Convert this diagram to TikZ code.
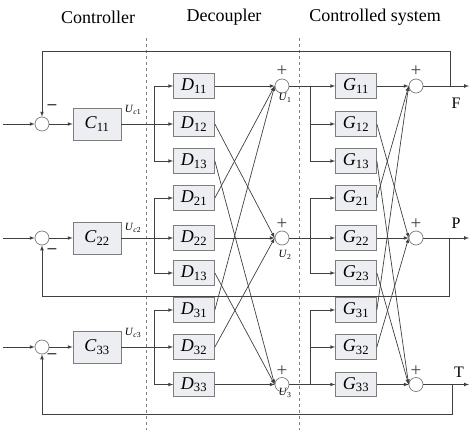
\documentclass[tikz,border=0pt]{standalone}
\usepackage{fontspec}
\setmainfont{Liberation Serif}
\usetikzlibrary{arrows}
\definecolor{LineGray}{RGB}{64,64,64}
\definecolor{EdgeGray}{RGB}{125,125,125}
\definecolor{BoxFill}{RGB}{236,238,242}
\newcommand{\blk}[2]{\textit{#1}\textsubscript{#2}}

\begin{document}
\begin{tikzpicture}[x=1pt,y=-1pt,
    wire/.style={draw=LineGray,line width=0.7pt},
    sig/.style={wire,-latex},
    block/.style={draw=EdgeGray,fill=BoxFill,line width=0.7pt,minimum width=41pt,
      minimum height=24.5pt,inner sep=0pt,font=\fontsize{18}{18}\selectfont},
    cblock/.style={block,minimum width=48pt,minimum height=32pt},
    sumnode/.style={circle,draw=EdgeGray,fill=white,line width=0.7pt,minimum size=14pt,inner sep=0pt},
    title/.style={font=\fontsize{18}{20}\selectfont},
    sign/.style={font=\fontsize{19}{19}\selectfont,inner sep=0pt,text=LineGray},
    divider/.style={draw=EdgeGray,dashed,line width=0.7pt},
    sublabel/.style={font=\fontsize{11}{11}\selectfont,inner sep=0pt},
    outlabel/.style={font=\fontsize{16}{16}\selectfont,inner sep=0pt}]
  \useasboundingbox (0,0) rectangle (474,431);
  % titles
  \node[title] (tC) at (98,17) {Controller};
  \node[title] (tD) at (224,17) {Decoupler};
  \node[title] (tG) at (375,17) {Controlled system};
  % dashed dividers
  \draw[divider] (146,38) -- (146,430);
  \draw[divider] (299,38) -- (299,430);
  % error junctions
  \node[sumnode] (e1) at (42,124) {};
  \node[sumnode] (e2) at (42,238) {};
  \node[sumnode] (e3) at (42,347) {};
  \node[sign] (m1) at (52,108) {\textbf{−}};
  \node[sign] (m2) at (52,252) {\textbf{−}};
  \node[sign] (m3) at (52,357) {\textbf{−}};
  % controllers
  \node[cblock] (C11) at (97,124) {\blk{C}{11}};
  \node[cblock] (C22) at (97,238) {\blk{C}{22}};
  \node[cblock] (C33) at (97,347) {\blk{C}{33}};
  \node[sublabel] (uc1) at (133,110) {\textit{U}\textsubscript{\textit{c}1}};
  \node[sublabel] (uc2) at (133,228) {\textit{U}\textsubscript{\textit{c}2}};
  \node[sublabel] (uc3) at (133,333) {\textit{U}\textsubscript{\textit{c}3}};
  % decoupler
  \node[block] (D11) at (194,86) {\blk{D}{11}};
  \node[block] (D12) at (194,124) {\blk{D}{12}};
  \node[block] (D13) at (194,161) {\blk{D}{13}};
  \node[block] (D21) at (194,198) {\blk{D}{21}};
  \node[block] (D22) at (194,238) {\blk{D}{22}};
  \node[block] (D23) at (194,273) {\blk{D}{13}};
  \node[block] (D31) at (194,310) {\blk{D}{31}};
  \node[block] (D32) at (194,347) {\blk{D}{32}};
  \node[block] (D33) at (194,384.5) {\blk{D}{33}};
  % decoupled sums
  \node[sumnode] (U1) at (282,86) {};
  \node[sumnode] (U2) at (282,238) {};
  \node[sumnode] (U3) at (282,384.5) {};
  \node[sign] (pU1) at (282,71) {+};
  \node[sign] (pU2) at (282,224) {+};
  \node[sign] (pU3) at (282,371) {+};
  \node[sublabel] (lU1) at (285,98) {\textit{U}\textsubscript{1}};
  \node[sublabel] (lU2) at (285,255) {\textit{U}\textsubscript{2}};
  \node[sublabel] (lU3) at (285,393) {\textit{U}\textsubscript{3}};
  % controlled system
  \node[block] (G11) at (356,86) {\blk{G}{11}};
  \node[block] (G12) at (356,124) {\blk{G}{12}};
  \node[block] (G13) at (356,161) {\blk{G}{13}};
  \node[block] (G21) at (356,198) {\blk{G}{21}};
  \node[block] (G22) at (356,238) {\blk{G}{22}};
  \node[block] (G23) at (356,273) {\blk{G}{23}};
  \node[block] (G31) at (356,310) {\blk{G}{31}};
  \node[block] (G32) at (356,347) {\blk{G}{32}};
  \node[block] (G33) at (356,384.5) {\blk{G}{33}};
  % output sums
  \node[sumnode] (S1) at (416,86) {};
  \node[sumnode] (S2) at (416,238) {};
  \node[sumnode] (S3) at (416,384.5) {};
  \node[sign] (pS1) at (416,71) {+};
  \node[sign] (pS2) at (416,224) {+};
  \node[sign] (pS3) at (416,371) {+};
  \node[outlabel] (F) at (456,103) {F};
  \node[outlabel] (P) at (456,223) {P};
  \node[outlabel] (T) at (459,372) {T};
  % free ends and branch points
  \coordinate (in1) at (3,124);
  \coordinate (in2) at (3,238);
  \coordinate (in3) at (3,347);
  \coordinate (b1) at (154,124);
  \coordinate (b2) at (154,238);
  \coordinate (b3) at (154,347);
  \coordinate (g1) at (310,86);
  \coordinate (g2) at (310,238);
  \coordinate (g3) at (310,384.5);
  \coordinate (y1) at (469,86);
  \coordinate (y2) at (469,238);
  \coordinate (y3) at (469,384.5);
  \coordinate (f1) at (450,86);
  \coordinate (f2) at (449,238);
  \coordinate (f3) at (452,384.5);
  \coordinate (k1) at (450,51);
  \coordinate (k2) at (449,296);
  \coordinate (k3) at (452,414);
  % controller loops
  \draw[sig] (in1) -- (e1);
  \draw[sig] (in2) -- (e2);
  \draw[sig] (in3) -- (e3);
  \draw[sig] (e1) -- (C11);
  \draw[sig] (e2) -- (C22);
  \draw[sig] (e3) -- (C33);
  \draw[sig] (C11) -- (D12);
  \draw[sig] (C22) -- (D22);
  \draw[sig] (C33) -- (D32);
  \draw[sig] (b1) |- (D11);
  \draw[sig] (b1) |- (D13);
  \draw[sig] (b2) |- (D21);
  \draw[sig] (b2) |- (D23);
  \draw[sig] (b3) |- (D31);
  \draw[sig] (b3) |- (D33);
  % decoupler outputs
  \draw[sig] (D11.east) -- (U1.west);
  \draw[sig] (D12.east) -- (U2.west);
  \draw[sig] (D13.east) -- (U3.west);
  \draw[sig] (D21.east) -- (U1.west);
  \draw[sig] (D22.east) -- (U2.west);
  \draw[sig] (D23.east) -- (U3.west);
  \draw[sig] (D31.east) -- (U1.west);
  \draw[sig] (D32.east) -- (U2.west);
  \draw[sig] (D33.east) -- (U3.west);
  % plant inputs
  \draw[sig] (U1) -- (G11);
  \draw[sig] (U2) -- (G22);
  \draw[sig] (U3) -- (G33);
  \draw[sig] (g1) |- (G12);
  \draw[sig] (g1) |- (G13);
  \draw[sig] (g2) |- (G21);
  \draw[sig] (g2) |- (G23);
  \draw[sig] (g3) |- (G31);
  \draw[sig] (g3) |- (G32);
  % plant outputs
  \draw[sig] (G11.east) -- (S1.west);
  \draw[sig] (G12.east) -- (S2.west);
  \draw[sig] (G13.east) -- (S3.west);
  \draw[sig] (G21.east) -- (S1.west);
  \draw[sig] (G22.east) -- (S2.west);
  \draw[sig] (G23.east) -- (S3.west);
  \draw[sig] (G31.east) -- (S1.west);
  \draw[sig] (G32.east) -- (S2.west);
  \draw[sig] (G33.east) -- (S3.west);
  \draw[sig] (S1) -- (y1);
  \draw[sig] (S2) -- (y2);
  \draw[sig] (S3) -- (y3);
  % feedback
  \draw[sig] (f1) -- (k1) -| (e1);
  \draw[sig] (f2) -- (k2) -| (e2);
  \draw[sig] (f3) -- (k3) -| (e3);
\end{tikzpicture}
\end{document}
